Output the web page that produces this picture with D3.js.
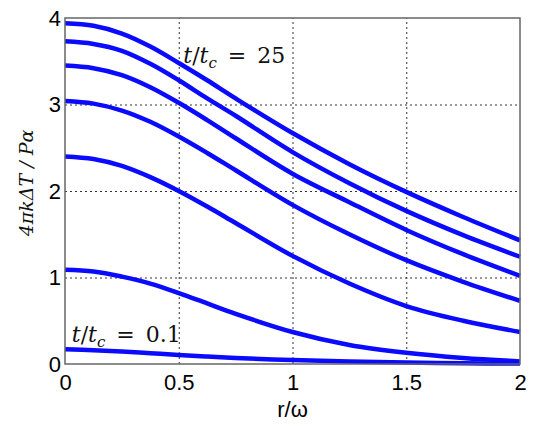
<!DOCTYPE html>
<html>
<head>
<meta charset="utf-8">
<script src="https://cdn.jsdelivr.net/npm/d3@7"></script>
<style>
  body { margin: 0; background: #fff; }
  .tick text { font-family: "Liberation Sans", Arial, sans-serif; font-size: 22px; fill: #000; }
</style>
</head>
<body>
<script>
// r/omega sample positions (denser near the top of the bell)
var rValues = [0, 0.125, 0.25, 0.375, 0.5, 0.625, 0.75, 1, 1.25, 1.5, 1.75, 2];

// one curve per t/tc, top to bottom
var curve25  = [3.94, 3.91, 3.82, 3.67, 3.48, 3.28, 3.07, 2.67, 2.31, 1.99, 1.70, 1.43];
var curveB   = [3.73, 3.70, 3.62, 3.47, 3.28, 3.07, 2.87, 2.45, 2.09, 1.77, 1.49, 1.24];
var curveC   = [3.45, 3.42, 3.34, 3.20, 3.02, 2.82, 2.61, 2.20, 1.87, 1.55, 1.27, 1.02];
var curveD   = [3.04, 3.01, 2.93, 2.80, 2.63, 2.44, 2.24, 1.84, 1.50, 1.20, 0.95, 0.73];
var curveE   = [2.40, 2.37, 2.29, 2.16, 2.00, 1.82, 1.63, 1.25, 0.93, 0.67, 0.50, 0.37];
var curveF   = [1.09, 1.07, 1.01, 0.93, 0.82, 0.70, 0.58, 0.37, 0.22, 0.13, 0.07, 0.03];
var curve01  = [0.17, 0.16, 0.145, 0.125, 0.105, 0.087, 0.07, 0.045, 0.028, 0.016, 0.009, 0.005];
var allCurves = [curve25, curveB, curveC, curveD, curveE, curveF, curve01];

var xTicks = [0, 0.5, 1, 1.5, 2];
var xTickLabels = ["0", "0.5", "1", "1.5", "2"];
var yTicks = [0, 1, 2, 3, 4];

var width = 550, height = 430;
var margin = {left: 65, right: 30, top: 18, bottom: 66};
var w = width - margin.left - margin.right;
var h = height - margin.top - margin.bottom;

var svg = d3.select("body")
  .append("svg")
  .attr("width", width)
  .attr("height", height);

var g = svg.append("g")
  .attr("transform", "translate(" + margin.left + "," + margin.top + ")");

var x = d3.scaleLinear().domain([0, 2]).range([0, w]);
var y = d3.scaleLinear().domain([0, 4]).range([h, 0]);

// dotted grid
g.append("g")
  .attr("transform", "translate(0," + h + ")")
  .call(d3.axisBottom(x).tickValues(xTicks.slice(1, -1)).tickSize(-h).tickFormat(""))
  .call(function (a) { a.select(".domain").remove(); })
  .selectAll("line")
  .attr("stroke", "#333")
  .attr("stroke-width", 1)
  .attr("stroke-dasharray", "2,3");

g.append("g")
  .call(d3.axisLeft(y).tickValues(yTicks.slice(1, -1)).tickSize(-w).tickFormat(""))
  .call(function (a) { a.select(".domain").remove(); })
  .selectAll("line")
  .attr("stroke", "#333")
  .attr("stroke-width", 1)
  .attr("stroke-dasharray", "2,3");

// tick labels
g.append("g")
  .attr("transform", "translate(0," + h + ")")
  .call(d3.axisBottom(x).tickValues(xTicks).tickSize(0).tickPadding(10)
    .tickFormat(function (d, i) { return xTickLabels[i]; }))
  .call(function (a) { a.select(".domain").remove(); });

g.append("g")
  .call(d3.axisLeft(y).tickValues(yTicks).tickSize(0).tickPadding(4).tickFormat(d3.format("d")))
  .call(function (a) { a.select(".domain").remove(); });

// curves
var line = d3.line()
  .x(function (d, i) { return x(rValues[i]); })
  .y(function (d) { return y(d); })
  .curve(d3.curveCatmullRom.alpha(0.5));

g.selectAll(".curve")
  .data(allCurves)
  .enter()
  .append("path")
  .attr("class", "curve")
  .attr("d", line)
  .attr("fill", "none")
  .attr("stroke", "#0a0aff")
  .attr("stroke-width", 4.5);

// box
g.append("rect")
  .attr("width", w)
  .attr("height", h)
  .attr("fill", "none")
  .attr("stroke", "#666")
  .attr("stroke-width", 1.5);

// t/tc labels
function tLabel(px, py, val) {
  var t = g.append("text")
    .attr("x", x(px))
    .attr("y", y(py))
    .attr("font-family", "DejaVu Serif, serif")
    .attr("font-size", 22)
    .attr("fill", "#111");
  t.append("tspan").attr("font-style", "italic").text("t");
  t.append("tspan").text("/");
  t.append("tspan").attr("font-style", "italic").text("t");
  t.append("tspan").attr("font-style", "italic").attr("font-size", 15).attr("dy", 5).text("c");
  t.append("tspan").attr("dy", -5).text("\u2002=\u2002" + val);
}
tLabel(0.52, 3.48, "25");
tLabel(0.03, 0.25, "0.1");

// axis titles
svg.append("text")
  .attr("x", margin.left + w / 2)
  .attr("y", 417)
  .attr("text-anchor", "middle")
  .attr("font-family", "Liberation Sans, Arial, sans-serif")
  .attr("font-size", 22)
  .text("r/ω");

svg.append("text")
  .attr("transform", "translate(33,183) rotate(-90)")
  .attr("text-anchor", "middle")
  .attr("font-family", "DejaVu Serif, serif")
  .attr("font-style", "italic")
  .attr("font-size", 19)
  .attr("fill", "#111")
  .text("4πkΔT / Pα");
</script>
</body>
</html>
